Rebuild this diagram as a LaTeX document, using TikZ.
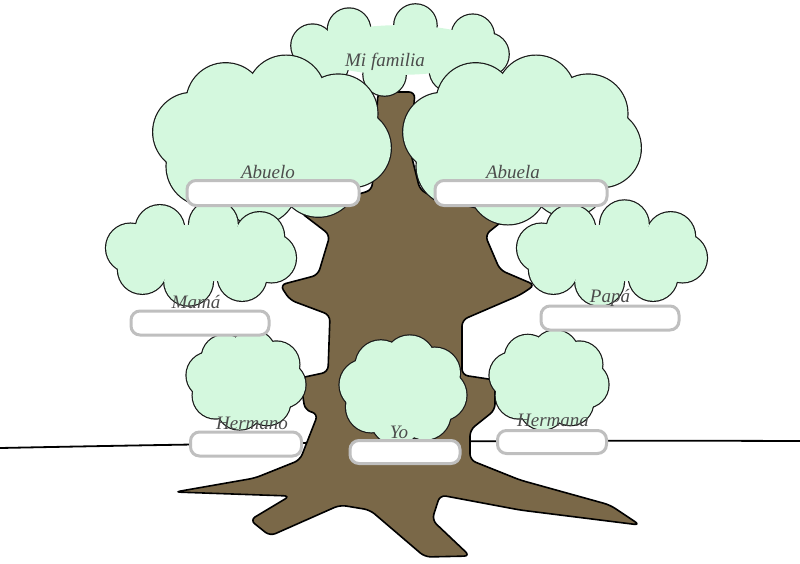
\documentclass[tikz,border=0pt]{standalone}
\usepackage{fontspec}
\setmainfont{Liberation Serif}
\begin{document}
\begin{tikzpicture}[x=1pt,y=-1pt,
  lbl/.style={font=\itshape\fontsize{19}{19}\selectfont, text=black!70},
  lblbox/.style={draw=black!25, line width=3pt, fill=white, rounded corners=9pt},
  cloudline/.style={draw=black!90, line width=2.4pt},
  cloudfill/.style={fill=leaf}]
\definecolor{leaf}{HTML}{D4F8DE}
\definecolor{bark}{HTML}{7A6848}
\newcommand\mycloud[4]{%
  \pgfmathsetmacro\rr{0.46*min(#3,#4)}%
  \pgfmathsetmacro\ax{#3-\rr}\pgfmathsetmacro\ay{#4-\rr}%
  \foreach \a in {10,55,...,325}{\draw[cloudline] ({#1+\ax*cos(\a)},{#2+\ay*sin(\a)}) circle[radius=\rr];}%
  \foreach \a in {10,55,...,325}{\fill[leaf] ({#1+\ax*cos(\a)},{#2+\ay*sin(\a)}) circle[radius=\rr];}%
  \fill[leaf] (#1,#2) ellipse[x radius=\ax, y radius=\ay];}
\useasboundingbox (0,0) rectangle (800,563);
\draw[line width=1.8pt] (0,448) .. controls (300,442) and (500,440) .. (800,441);
\fill[bark, draw=black, line width=1.6pt, rounded corners=6pt]
 (378,92) -- (372,190) -- (300,212) -- (330,235) -- (318,275) -- (280,285) -- (290,300)
 -- (330,315) -- (328,372) -- (300,378) -- (305,410) -- (318,414) -- (300,460) -- (255,478)
 -- (175,492) -- (290,496) -- (250,520) -- (270,536) -- (340,505) -- (370,510) -- (425,557)
 -- (470,556) -- (432,520) -- (440,495) -- (520,510) -- (640,525) -- (610,505) -- (520,480)
 -- (470,460) -- (470,430) -- (495,410) -- (495,380) -- (462,375) -- (462,320) -- (520,295)
 -- (535,285) -- (500,270) -- (485,235) -- (510,215) -- (440,200) -- (420,190) -- (410,150)
 -- (415,92) -- cycle;
\mycloud{400}{50}{110}{46}
\mycloud{272}{140}{120}{85}
\mycloud{522}{140}{120}{85}
\mycloud{201}{253}{96}{53}
\mycloud{612}{253}{96}{53}
\mycloud{246}{380}{60}{50}
\mycloud{403}{390}{64}{55}
\mycloud{549}{380}{60}{50}
\node[lblbox, minimum width=172pt, minimum height=25pt] (b1) at (273,193) {};
\node[lblbox, minimum width=172pt, minimum height=25pt] (b2) at (521,193) {};
\node[lblbox, minimum width=138pt, minimum height=24pt] (b3) at (200,323) {};
\node[lblbox, minimum width=138pt, minimum height=24pt] (b4) at (610,318) {};
\node[lblbox, minimum width=111pt, minimum height=24pt] (b5) at (246,444) {};
\node[lblbox, minimum width=110pt, minimum height=23pt] (b6) at (405,452) {};
\node[lblbox, minimum width=109pt, minimum height=23pt] (b7) at (552,442) {};
\node[lbl] (t0) at (385,62) {Mi familia};
\node[lbl] (t1) at (268,172) {Abuelo};
\node[lbl] (t2) at (513,172) {Abuela};
\node[lbl] (t3) at (196,302) {Mamá};
\node[lbl] (t4) at (610,298) {Papá};
\node[lbl] (t5) at (252,423) {Hermano};
\node[lbl] (t6) at (399,432) {Yo};
\node[lbl] (t7) at (553,420) {Hermana};
\end{tikzpicture}
\end{document}
